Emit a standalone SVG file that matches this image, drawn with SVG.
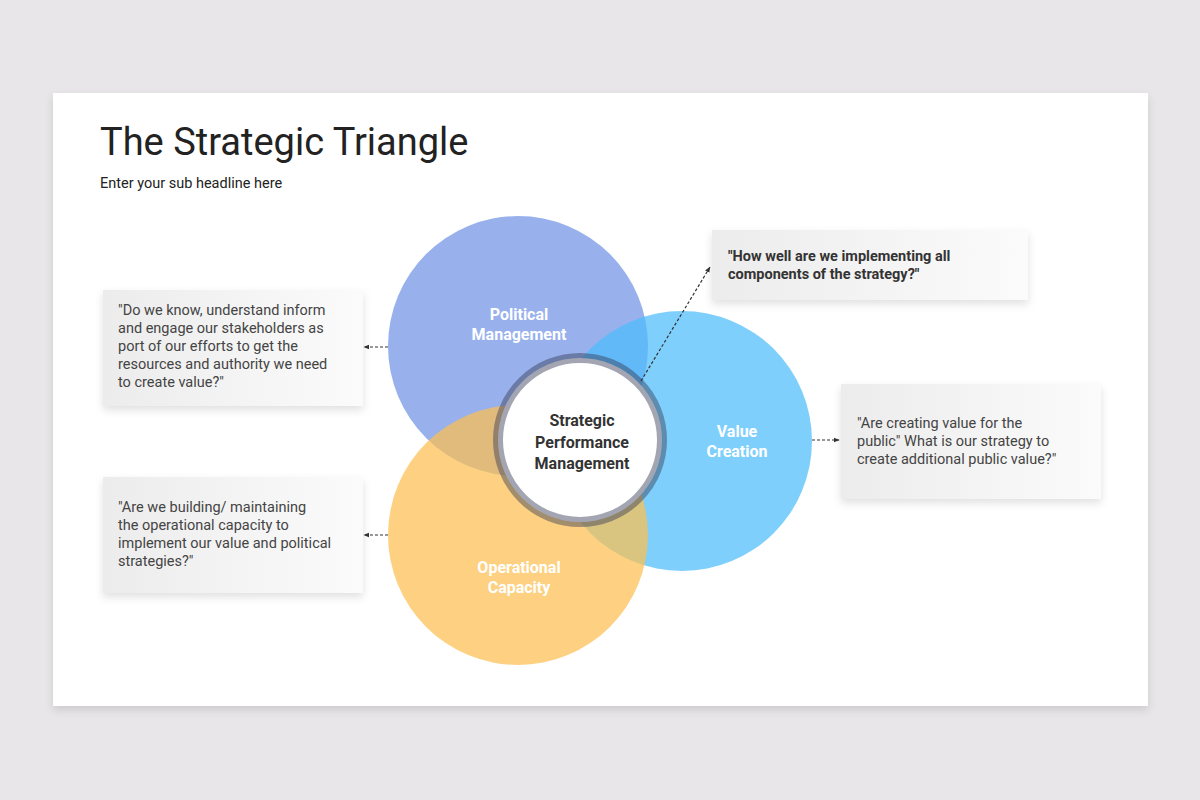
<svg xmlns="http://www.w3.org/2000/svg" width="1200" height="800" viewBox="0 0 1200 800">
<defs>
<style>
.t{font-family:Roboto,"Liberation Sans",sans-serif}
.q{font-family:Roboto,"Liberation Sans",sans-serif;font-size:14.5px;fill:#444}
.qb{font-family:Roboto,"Liberation Sans",sans-serif;font-size:14.5px;fill:#333;font-weight:bold}
.cl{font-family:Roboto,"Liberation Sans",sans-serif;font-size:16px;font-weight:bold;fill:#fff;text-anchor:middle}
.conn{stroke:#333;stroke-width:1.2;stroke-dasharray:3 2;fill:none}
.box{fill:url(#g)}
</style>
<linearGradient id="g" x1="0" y1="0" x2="1" y2="0"><stop offset="0" stop-color="#ececec"/><stop offset="1" stop-color="#fbfbfb"/></linearGradient>
<filter id="sh" x="-10%" y="-20%" width="120%" height="150%"><feDropShadow dx="0" dy="4" stdDeviation="4" flood-color="#000" flood-opacity="0.12"/></filter>
<marker id="ar" viewBox="0 0 10 10" refX="9" refY="5" markerWidth="5" markerHeight="5" orient="auto"><path d="M0,1 L10,5 L0,9 z" fill="#333"/></marker>
</defs>
<rect width="1200" height="800" fill="#e8e6e8"/>
<rect x="53" y="93" width="1095" height="613" fill="#fff" filter="url(#sh)"/>
<text class="t" x="100" y="155" font-size="38" fill="#222">The Strategic Triangle</text>
<text class="t" x="100" y="188" font-size="14.5" fill="#222">Enter your sub headline here</text>

<g id="circles">
<g id="political"><circle cx="518" cy="346" r="130" fill="#7e9ee8" fill-opacity="0.8"/></g>
<g id="value"><circle cx="682" cy="441" r="130" fill="#4dbdfb" fill-opacity="0.72"/></g>
<g id="operational"><circle cx="518" cy="535" r="130" fill="#fcbf50" fill-opacity="0.72"/></g>
<g id="center"><circle cx="580" cy="440" r="82" fill="#fff" stroke="#333a55" stroke-opacity="0.45" stroke-width="10"/>
<text class="cl" style="fill:#333" x="582" y="426">Strategic</text>
<text class="cl" style="fill:#333" x="582" y="448">Performance</text>
<text class="cl" style="fill:#333" x="582" y="469">Management</text></g>
<text class="cl" x="519" y="320">Political</text>
<text class="cl" x="519" y="340">Management</text>
<text class="cl" x="737" y="437">Value</text>
<text class="cl" x="737" y="457">Creation</text>
<text class="cl" x="519" y="573">Operational</text>
<text class="cl" x="519" y="593">Capacity</text>
</g>

<g id="box1" filter="url(#sh)"><rect class="box" x="103" y="290" width="260" height="116"/></g>
<g id="box1t"><text class="q" x="118" y="315">"Do we know, understand inform</text>
<text class="q" x="118" y="333">and engage our stakeholders as</text>
<text class="q" x="118" y="351">port of our efforts to get the</text>
<text class="q" x="118" y="369">resources and authority we need</text>
<text class="q" x="118" y="387">to create value?"</text></g>
<g id="box2" filter="url(#sh)"><rect class="box" x="103" y="477" width="260" height="116"/></g>
<g id="box2t"><text class="q" x="118" y="512">"Are we building/ maintaining</text>
<text class="q" x="118" y="530">the operational capacity to</text>
<text class="q" x="118" y="548">implement our value and political</text>
<text class="q" x="118" y="566">strategies?"</text></g>
<g id="box3" filter="url(#sh)"><rect class="box" x="712" y="230" width="316" height="70"/></g>
<g id="box3t"><text class="qb" x="728" y="261">"How well are we implementing all</text>
<text class="qb" x="728" y="279">components of the strategy?"</text></g>
<g id="box4" filter="url(#sh)"><rect class="box" x="841" y="384" width="260" height="115"/></g>
<g id="box4t"><text class="q" x="857" y="428">"Are creating value for the</text>
<text class="q" x="857" y="446">public" What is our strategy to</text>
<text class="q" x="857" y="464">create additional public value?"</text></g>

<g id="connectors">
<path class="conn" d="M388,347 L364,347" marker-end="url(#ar)"/>
<path class="conn" d="M388,535 L364,535" marker-end="url(#ar)"/>
<path class="conn" d="M812,440 L839,440" marker-end="url(#ar)"/>
<path class="conn" d="M641,381 L710,267" marker-end="url(#ar)"/>
</g>
</svg>
